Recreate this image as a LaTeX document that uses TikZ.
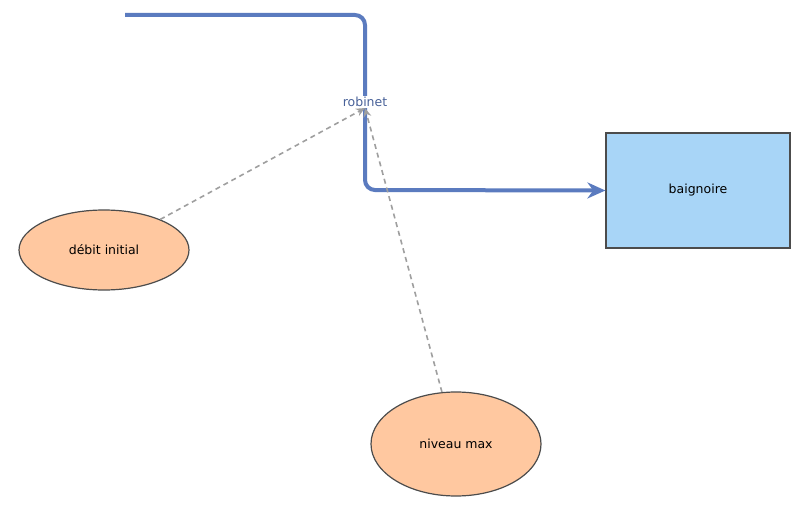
\documentclass[tikz,border=0pt]{standalone}
\usepackage{fontspec}
\setmainfont{DejaVu Sans}
\usetikzlibrary{arrows.meta,shapes.geometric}
\definecolor{flow}{HTML}{5B7BBF}
\definecolor{boxfill}{HTML}{A8D5F7}
\definecolor{ellfill}{HTML}{FFC8A0}
\begin{document}
\begin{tikzpicture}[x=1pt,y=-1pt,
  lbl/.style={font=\fontsize{12.5}{15}\selectfont},
  ell/.style={ellipse,draw=gray!60!black,fill=ellfill,line width=1.2pt,lbl},
  dep/.style={dash pattern=on 5pt off 4pt,draw=gray!75,line width=1.6pt,-{Stealth[length=9pt,width=8pt]}}]
\useasboundingbox (0,0) rectangle (800,513);
\node[draw=gray!60!black,fill=boxfill,line width=1.2pt,minimum width=184pt,minimum height=115pt,lbl] (bain) at (698,190.5) {baignoire};
\coordinate (src) at (125,15);
\draw[flow,line width=4pt,rounded corners=10pt,-{Stealth[length=18pt,width=16pt]}] (src) -- (365,15) -- (365,190) -- (bain.west);
\node[lbl,text=flow!80!black,fill=white,inner sep=1pt] (rob) at (365,102) {robinet};
\node[ell,minimum width=170pt,minimum height=80pt] (deb) at (104,250) {débit initial};
\node[ell,minimum width=170pt,minimum height=104pt] (niv) at (456,444) {niveau max};
\draw[dep] (deb) -- (rob.south);
\draw[dep] (niv) -- (rob.south);
\end{tikzpicture}
\end{document}
